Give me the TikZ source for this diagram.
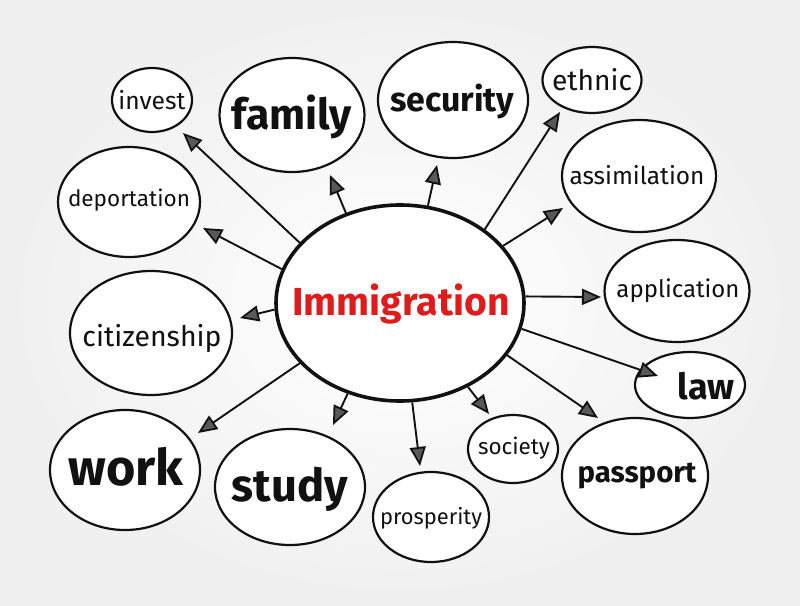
\documentclass[tikz,border=0pt]{standalone}
\usepackage{fontspec}
\setmainfont{Fira Sans}
\usetikzlibrary{shapes.geometric,arrows.meta}
\definecolor{inkred}{HTML}{E01B1B}
\definecolor{ink}{HTML}{111111}
\newcommand{\fitw}[2]{\resizebox{#1pt}{!}{#2}}
\tikzset{
  bub/.style={ellipse, draw=ink, line width=2.2pt, fill=white, inner sep=0pt},
  hub/.style={ellipse, draw=ink, line width=3.6pt, fill=white, inner sep=0pt},
  lbl/.style={inner sep=0pt, text=ink},
  arr/.style={draw=ink, line width=1.9pt, -{Triangle[length=19pt,width=16pt,fill=black!65,line width=1.8pt]}},
}
\begin{document}
\begin{tikzpicture}[x=1pt,y=-1pt]
\useasboundingbox (0,0) rectangle (800,605);
\shade[inner color=white, outer color=black!6] (0,0) rectangle (800,605);

% central node
\node[hub, minimum width=248pt, minimum height=196pt] (imm) at (400,303) {};
\node[lbl, text=inkred] (immt) at (401,304) {\fitw{217}{\bfseries Immigration}};

% bubbles
\node[bub, minimum width=80pt, minimum height=64pt] (invest) at (152,100) {};
\node[lbl] (investt) at (152,100) {\fitw{67}{invest}};
\node[bub, minimum width=145pt, minimum height=114pt] (family) at (292,115) {};
\node[lbl] (familyt) at (292,117) {\fitw{120}{\bfseries family}};
\node[bub, minimum width=150pt, minimum height=116pt] (security) at (453,100) {};
\node[lbl] (securityt) at (452,102) {\fitw{124}{\bfseries security}};
\node[bub, minimum width=99pt, minimum height=66pt] (ethnic) at (592,80) {};
\node[lbl] (ethnict) at (592,80) {\fitw{80}{ethnic}};
\node[bub, minimum width=154pt, minimum height=112pt] (assim) at (639,176) {};
\node[lbl] (assimt) at (637,175) {\fitw{135}{assimilation}};
\node[bub, minimum width=142pt, minimum height=110pt] (deport) at (129,202) {};
\node[lbl] (deportt) at (129,200) {\fitw{122}{deportation}};
\node[bub, minimum width=145pt, minimum height=102pt] (appl) at (677,291) {};
\node[lbl] (applt) at (678,291) {\fitw{123}{application}};
\node[bub, minimum width=162pt, minimum height=124pt] (citiz) at (151,333) {};
\node[lbl] (citizt) at (152,338) {\fitw{139}{citizenship}};
\node[bub, minimum width=110pt, minimum height=66pt] (law) at (690,385) {};
\node[lbl] (lawt) at (706,386) {\fitw{57}{\bfseries law}};
\node[bub, minimum width=150pt, minimum height=120pt] (work) at (125,470) {};
\node[lbl] (workt) at (126,467) {\fitw{115}{\bfseries work}};
\node[bub, minimum width=150pt, minimum height=116pt] (study) at (290,487) {};
\node[lbl] (studyt) at (290,489) {\fitw{116}{\bfseries study}};
\node[bub, minimum width=116pt, minimum height=90pt] (prosp) at (431,517) {};
\node[lbl] (prospt) at (431,518) {\fitw{102}{prosperity}};
\node[bub, minimum width=90pt, minimum height=68pt] (society) at (513,449) {};
\node[lbl] (societyt) at (514,448) {\fitw{72}{society}};
\node[bub, minimum width=146pt, minimum height=116pt] (passport) at (635,476) {};
\node[lbl] (passportt) at (637,476) {\fitw{119}{\bfseries passport}};

% arrow tips
\coordinate (tinvest) at (183,133);
\coordinate (tfamily) at (330,175);
\coordinate (tsecurity) at (437,165);
\coordinate (tethnic) at (560,112);
\coordinate (tassim) at (563,208);
\coordinate (tdeport) at (203,228);
\coordinate (tappl) at (601,297);
\coordinate (tcitiz) at (240,318);
\coordinate (tlaw) at (658,376);
\coordinate (twork) at (198,433);
\coordinate (tstudy) at (333,425);
\coordinate (tprosp) at (420,466);
\coordinate (tsociety) at (489,414);
\coordinate (tpassport) at (598,418);

\draw[arr] (imm.149) -- (tinvest);
\draw[arr] (imm.121) -- (tfamily);
\draw[arr] (imm.74) -- (tsecurity);
\draw[arr] (imm.41) -- (tethnic);
\draw[arr] (imm.29) -- (tassim);
\draw[arr] (imm.164) -- (tdeport);
\draw[arr] (imm.3) -- (tappl);
\draw[arr] (imm.183) -- (tcitiz);
\draw[arr] (imm.-12) -- (tlaw);
\draw[arr] (imm.211) -- (twork);
\draw[arr] (imm.240) -- (tstudy);
\draw[arr] (imm.277) -- (tprosp);
\draw[arr] (imm.309) -- (tsociety);
\draw[arr] (imm.334) -- (tpassport);
\end{tikzpicture}
\end{document}
